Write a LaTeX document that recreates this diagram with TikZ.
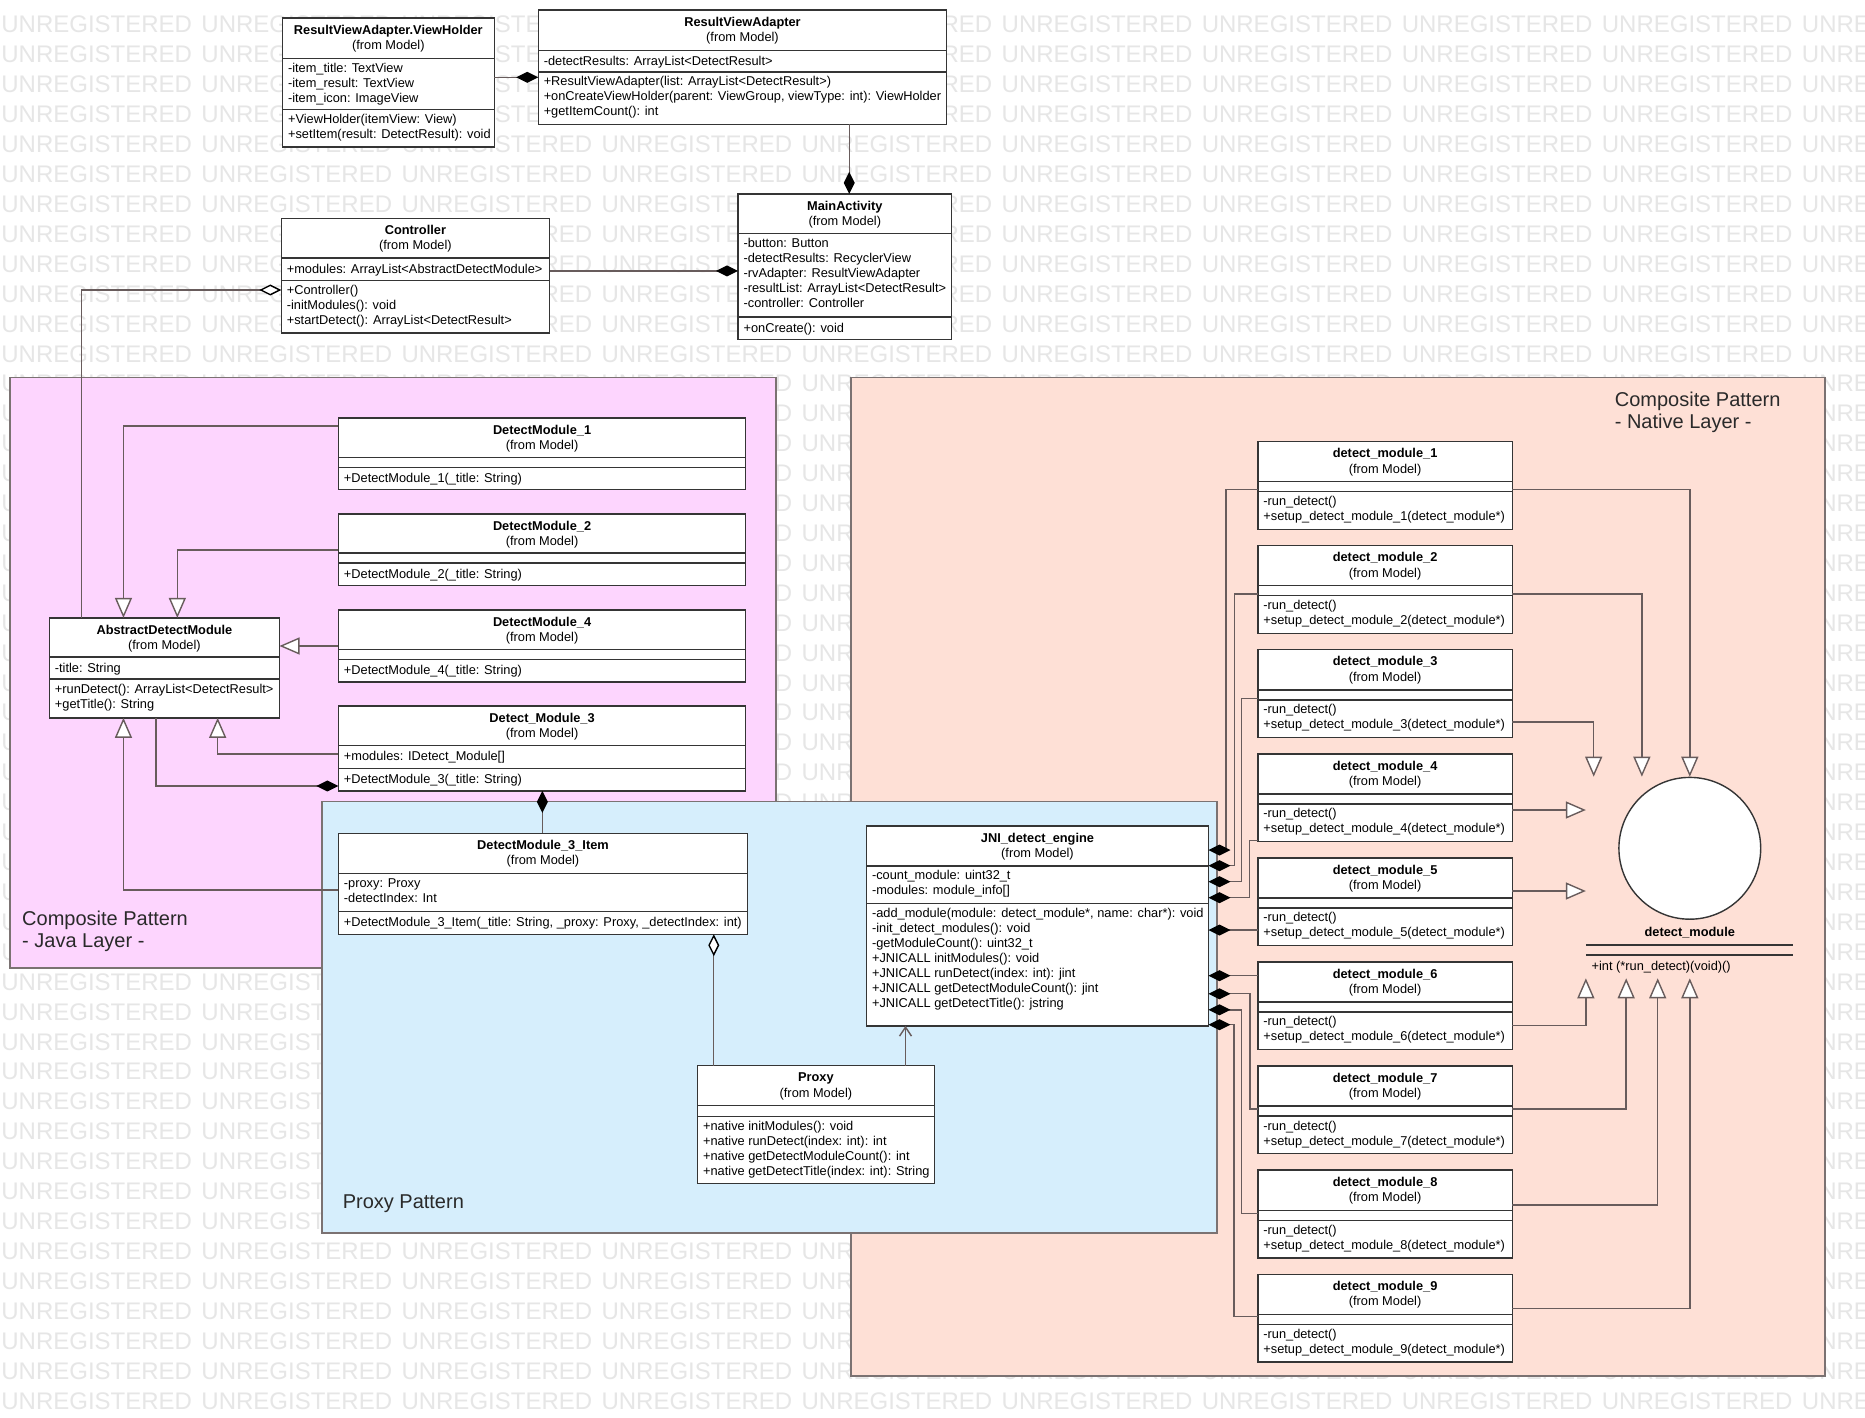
\documentclass[tikz,border=0pt]{standalone}
\usepackage{fontspec}
\setmainfont{Liberation Sans}
\usetikzlibrary{arrows.meta}
\definecolor{boxline}{HTML}{353535}
\definecolor{connclr}{HTML}{685C5C}
\definecolor{pkgline}{HTML}{7B7272}
\definecolor{pinkpkg}{HTML}{FDD5FE}
\definecolor{bluepkg}{HTML}{D6EEFC}
\definecolor{salmonpkg}{HTML}{FEE0D6}
\definecolor{wmark}{HTML}{E6E6E6}
\definecolor{lbltext}{HTML}{2A2A2A}
\tikzset{
  wm/.style={font=\fontsize{24pt}{28pt}\selectfont, text=wmark, anchor=base west, inner sep=0pt},
  pkg/.style={draw=pkgline, line width=1.6pt, anchor=north west, inner sep=0pt, outer sep=0pt},
  pkglabel/.style={font=\fontsize{20pt}{22.4pt}\selectfont, text=lbltext, anchor=north west, inner sep=0pt, align=left, execute at begin node=\strut},
  clsbox/.style={draw=boxline, fill=white, line width=1.4pt, anchor=north west, inner sep=0pt, outer sep=0pt},
  sepline/.style={draw=boxline, line width=1.4pt},
  ctitle/.style={font=\fontsize{12.8pt}{15pt}\selectfont\bfseries, anchor=base, inner sep=0pt},
  cfrom/.style={font=\fontsize{12.8pt}{15pt}\selectfont, anchor=base, inner sep=0pt},
  cbody/.style={font=\fontsize{12.8pt}{15pt}\selectfont, anchor=north west, inner sep=0pt, align=left, execute at begin node=\strut},
  link/.style={draw=connclr, line width=1.4pt},
  gen/.style={link, -{Triangle[length=20pt,width=17pt,fill=white]}},
  comp/.style={link, -{Diamond[length=22pt,width=11pt,color=black,fill=black]}},
  aggr/.style={link, -{Diamond[length=22pt,width=11pt,color=black,fill=white]}},
  dep/.style={link, -{Straight Barb[length=9pt,width=12pt]}}
}
\newcommand\pkgbox[6]{%
  \pgfmathsetmacro\clsW{(#4-(#2))*1.1894}%
  \pgfmathsetmacro\clsH{(#5-(#3))*1.1894}%
  \node[pkg, fill=#6, minimum width=\clsW pt, minimum height=\clsH pt] (#1) at ({#2},{#3}) {};}
\newcommand\umlclass[8]{%
  \pgfmathsetmacro\clsW{(#4-(#2))*1.1894}%
  \pgfmathsetmacro\clsH{(#5-(#3))*1.1894}%
  \node[clsbox, minimum width=\clsW pt, minimum height=\clsH pt] (#1) at ({#2},{#3}) {};
  \draw[sepline] ({#2},{#6}) -- ({#4},{#6}) ({#2},{#7}) -- ({#4},{#7});
  \node[ctitle] (#1-t) at ({(#2+#4)/2},{#3+13.6}) {#8};
  \node[cfrom] (#1-f) at ({(#2+#4)/2},{#3+26.6}) {(from Model)};}
\newcommand\umlbody[4]{%
  \node[cbody] (#1) at ({#2+4.5},{#3+3.7}) {#4};}
\begin{document}
\begin{tikzpicture}[x=1.1894pt,y=-1.1894pt]
\useasboundingbox (0,0) rectangle (1568,1191.4);
\fill[white] (0,0) rectangle (1568,1191.4);
\begin{scope}
\clip (0,0) rectangle (1568,1191.4);
\foreach \r in {0,...,46}{
  \foreach \c in {0,...,9}{
    \pgfmathsetmacro\wxa{1+\c*168.2}
    \pgfmathsetmacro\wxb{\wxa+160}
    \pgfmathsetmacro\wyb{27.7+\r*25.15}
    \pgfmathsetmacro\wyt{\wyb-15}
    \pgfmathsetmacro\wyd{\wyb+3}
    \pgfmathtruncatemacro\inP{(\wyt>=317.5)&&(\wyd<=814)}
    \pgfmathtruncatemacro\inB{(\wyt>=674)&&(\wyd<=1036.5)}
    \pgfmathtruncatemacro\inS{(\wyt>=317.5)&&(\wyd<=1157)}
    \pgfmathtruncatemacro\inR{(\wyt>=8.5)&&(\wyd<=104.5)}
    \pgfmathtruncatemacro\hid{
      ((\inP==1)&&(\wxa>=8.5)&&(\wxb<=652.5)) ||
      ((\inB==1)&&(\wxa>=270.5)&&(\wxb<=1023)) ||
      ((\inS==1)&&(\wxa>=715.5)&&(\wxb<=1534.5)) ||
      ((\inP==1)&&(\inB==1)&&(\wxa>=8.5)&&(\wxb<=1023)) ||
      ((\inB==1)&&(\inS==1)&&(\wxa>=270.5)&&(\wxb<=1534.5)) ||
      ((\inR==1)&&(\wxa>=452.5)&&(\wxb<=796))}
    \ifnum\hid=0
      \node[wm] (wm-\r-\c) at (\wxa,\wyb) {UNREGISTERED};
    \fi
  }
}
\end{scope}
% packages
\pkgbox{javapkg}{8.5}{317.5}{652.5}{814}{pinkpkg}
\pkgbox{nativepkg}{715.5}{317.5}{1534.5}{1157}{salmonpkg}
\pkgbox{proxypkg}{270.5}{674}{1023}{1036.5}{bluepkg}
\node[pkglabel] (javalbl) at (18.5,765.8) {Composite Pattern\\- Java Layer -};
\node[pkglabel] (nativelbl) at (1357.5,329.3) {Composite Pattern\\- Native Layer -};
\node[pkglabel] (proxylbl) at (288,1002.8) {Proxy Pattern};
% top classes
\umlclass{VH}{237.5}{15}{415.5}{123.5}{49}{92}{ResultViewAdapter.ViewHolder}
\umlbody{VH-a}{237.5}{49}{-item\_title: TextView\\-item\_result: TextView\\-item\_icon: ImageView}
\umlbody{VH-o}{237.5}{92}{+ViewHolder(itemView: View)\\+setItem(result: DetectResult): void}
\umlclass{RVA}{452.5}{8.5}{796}{104.5}{42.5}{60.5}{ResultViewAdapter}
\umlbody{RVA-a}{452.5}{42.5}{-detectResults: ArrayList<DetectResult>}
\umlbody{RVA-o}{452.5}{60.5}{+ResultViewAdapter(list: ArrayList<DetectResult>)\\+onCreateViewHolder(parent: ViewGroup, viewType: int): ViewHolder\\+getItemCount(): int}
\umlclass{MA}{620.5}{163}{800}{285.5}{196.5}{266.5}{MainActivity}
\umlbody{MA-a}{620.5}{196.5}{-button: Button\\-detectResults: RecyclerView\\-rvAdapter: ResultViewAdapter\\-resultList: ArrayList<DetectResult>\\-controller: Controller}
\umlbody{MA-o}{620.5}{266.5}{+onCreate(): void}
\umlclass{CT}{236.5}{183.5}{462}{280}{217}{236}{Controller}
\umlbody{CT-a}{236.5}{217}{+modules: ArrayList<AbstractDetectModule>}
\umlbody{CT-o}{236.5}{236}{+Controller()\\-initModules(): void\\+startDetect(): ArrayList<DetectResult>}
% java layer
\umlclass{DM1}{284.5}{351.5}{627}{411.5}{384.5}{393}{DetectModule\_1}
\umlbody{DM1-o}{284.5}{393}{+DetectModule\_1(\_title: String)}
\umlclass{DM2}{284.5}{432}{627}{492.5}{465}{473.5}{DetectModule\_2}
\umlbody{DM2-o}{284.5}{473.5}{+DetectModule\_2(\_title: String)}
\umlclass{DM4}{284.5}{513}{627}{573.5}{546}{554.5}{DetectModule\_4}
\umlbody{DM4-o}{284.5}{554.5}{+DetectModule\_4(\_title: String)}
\umlclass{DM3}{284.5}{593.5}{627}{665}{627}{646}{Detect\_Module\_3}
\umlbody{DM3-a}{284.5}{627}{+modules: IDetect\_Module[]}
\umlbody{DM3-o}{284.5}{646}{+DetectModule\_3(\_title: String)}
\umlclass{ADM}{41.5}{519.5}{235}{603.5}{552.5}{571}{AbstractDetectModule}
\umlbody{ADM-a}{41.5}{552.5}{-title: String}
\umlbody{ADM-o}{41.5}{571}{+runDetect(): ArrayList<DetectResult>\\+getTitle(): String}
% proxy
\umlclass{DMI}{284.5}{700.5}{628.5}{785.5}{734.5}{766.5}{DetectModule\_3\_Item}
\umlbody{DMI-a}{284.5}{734.5}{-proxy: Proxy\\-detectIndex: Int}
\umlbody{DMI-o}{284.5}{766.5}{+DetectModule\_3\_Item(\_title: String, \_proxy: Proxy, \_detectIndex: int)}
\umlclass{Proxy}{586.5}{896}{785.5}{995}{929.5}{938.5}{Proxy}
\umlbody{Proxy-o}{586.5}{938.5}{+native initModules(): void\\+native runDetect(index: int): int\\+native getDetectModuleCount(): int\\+native getDetectTitle(index: int): String}
\umlclass{JNI}{728.5}{694.5}{1016}{862.5}{728}{759.5}{JNI\_detect\_engine}
\umlbody{JNI-a}{728.5}{728}{-count\_module: uint32\_t\\-modules: module\_info[]}
\umlbody{JNI-o}{728.5}{759.5}{-add\_module(module: detect\_module*, name: char*): void\\-init\_detect\_modules(): void\\-getModuleCount(): uint32\_t\\+JNICALL initModules(): void\\+JNICALL runDetect(index: int): jint\\+JNICALL getDetectModuleCount(): jint\\+JNICALL getDetectTitle(): jstring}
% native layer
\foreach \k in {1,...,9}{
  \pgfmathsetmacro\T{371.3+(\k-1)*87.5}
  \pgfmathsetmacro\Tb{\T+73.7}
  \pgfmathsetmacro\Th{\T+33.7}
  \pgfmathsetmacro\Ta{\T+42.1}
  \umlclass{dm\k}{1057.5}{\T}{1271.5}{\Tb}{\Th}{\Ta}{detect\_module\_\k}
  \umlbody{dm\k-o}{1057.5}{\Ta}{-run\_detect()\\+setup\_detect\_module\_\k(detect\_module*)}
}
\node[draw=boxline, fill=white, circle, line width=1.4pt, minimum size=141.8pt, inner sep=0pt] (IF) at (1420.7,713.2) {};
\node[ctitle] (IF-t) at (1420.7,787.5) {detect\_module};
\coordinate (ifL) at (1333.3,794.5);
\draw[sepline] (ifL) -- (1507.8,794.5) (1333.3,803) -- (1507.8,803);
\node[cfrom, anchor=base west] (IF-o) at (1338,816) {+int (*run\_detect)(void)()};
% top connectors
\draw[comp] (VH.east |- 0,65) -- (RVA.west |- 0,65);
\draw[comp] (RVA.south -| 714,0) -- (MA.north -| 714,0);
\draw[comp] (CT.east |- 0,227.8) -- (MA.west |- 0,227.8);
\draw[aggr] (ADM.north -| 68.7,0) |- (CT.west |- 0,243.8);
% java connectors
\draw[gen] (DM1.west |- 0,358.2) -| (ADM.north -| 103.8,0);
\draw[gen] (DM2.west |- 0,462.4) -| (ADM.north -| 149.1,0);
\draw[gen] (DM4.west |- 0,543.1) -- (ADM.east |- 0,543.1);
\draw[gen] (DM3.west |- 0,634) -| (ADM.south -| 183,0);
\draw[gen] (DMI.west |- 0,748.3) -| (ADM.south -| 103.8,0);
\draw[comp] (ADM.south -| 131.3,0) |- (DM3.west |- 0,660.8);
\draw[comp] (DMI.north -| 456,0) -- (DM3.south -| 456,0);
\draw[aggr] (Proxy.north -| 600.1,0) -- (DMI.south -| 600.1,0);
\draw[dep] (Proxy.north -| 761.3,0) -- (JNI.south -| 761.3,0);
% native compositions
\draw[comp] (dm1.west |- 0,411.4) -| (1030.8,714.7) -- (JNI.east |- 0,714.7);
\draw[comp] (dm2.west |- 0,499.4) -| (1037.8,727.8) -- (JNI.east |- 0,727.8);
\draw[comp] (dm3.west |- 0,587.1) -| (1044,741.3) -- (JNI.east |- 0,741.3);
\draw[comp] (dm4.west |- 0,706.5) -| (1050.7,754.7) -- (JNI.east |- 0,754.7);
\draw[comp] (dm5.west |- 0,781.9) -- (JNI.east |- 0,781.9);
\draw[comp] (dm6.west |- 0,820.3) -- (JNI.east |- 0,820.3);
\draw[comp] (dm7.west |- 0,932.4) -| (1051,835.5) -- (JNI.east |- 0,835.5);
\draw[comp] (dm8.west |- 0,1020) -| (1044,849) -- (JNI.east |- 0,849);
\draw[comp] (dm9.west |- 0,1107) -| (1037.5,861.5) -- (JNI.east |- 0,861.5);
% native generalizations
\draw[gen] (dm1.east |- 0,411.4) -| (IF.north);
\draw[gen] (dm2.east |- 0,499.4) -| (IF.north -| 1380.4,0);
\draw[gen] (dm3.east |- 0,607) -| (IF.north -| 1339.9,0);
\draw[gen] (dm4.east |- 0,681) -- (ifL |- 0,681);
\draw[gen] (dm5.east |- 0,749.1) -- (ifL |- 0,749.1);
\draw[gen] (dm6.east |- 0,862.4) -| (ifL |- 0,822.5);
\draw[gen] (dm7.east |- 0,932.4) -| (1367.2,822.5);
\draw[gen] (dm8.east |- 0,1013.1) -| (1393.7,822.5);
\draw[gen] (dm9.east |- 0,1100) -| (IF.center |- 0,822.5);
\end{tikzpicture}
\end{document}
